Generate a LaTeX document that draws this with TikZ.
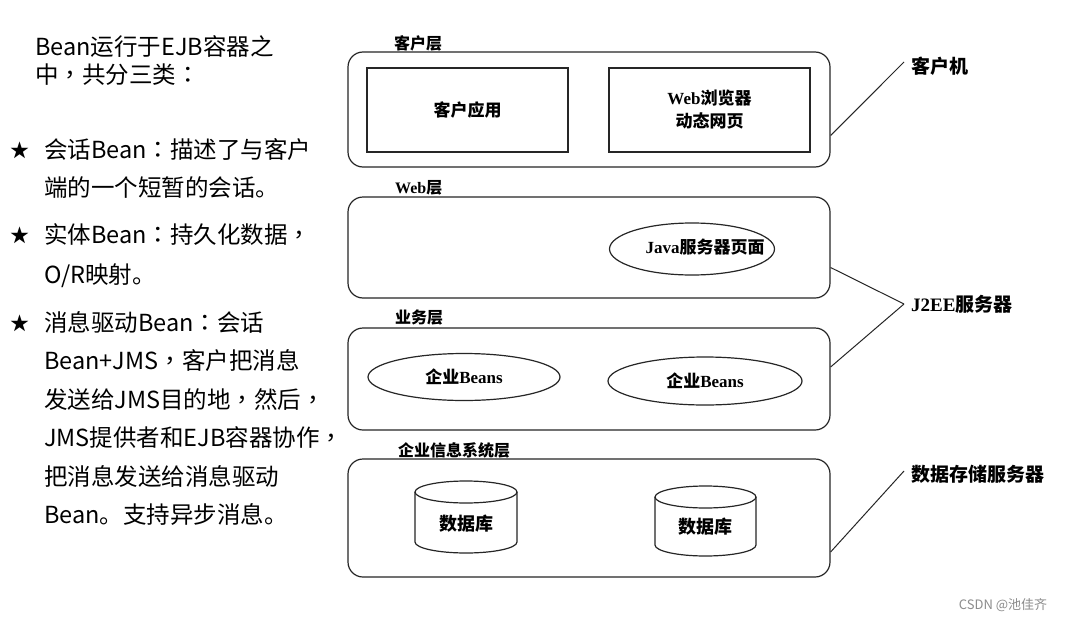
\documentclass[tikz,border=0pt]{standalone}
\usepackage{fontspec}
\setmainfont{Noto Sans CJK SC}
\newfontfamily\cjk{Noto Sans CJK SC}
\newfontfamily\cjktc{Noto Sans CJK TC}
\newfontfamily\lsr{Liberation Serif}
\newcommand\latb[1]{{\lsr\bfseries #1}}
\newcommand\cm{{\cjktc ，}}
\newcommand\cl{{\cjktc ：}}
\usetikzlibrary{calc,shapes.geometric}
\begin{document}
\begin{tikzpicture}[x=1pt,y=-1pt,
  layer/.style={draw=black!85, line width=1.2pt, rounded corners=15pt, minimum width=482pt, inner sep=0pt},
  inbox/.style={draw=black!85, line width=1.2pt, minimum width=201pt, minimum height=84pt, inner sep=0pt,
    font=\cjk\bfseries\fontsize{17}{23}\selectfont, align=center},
  ell/.style={draw=black!85, ellipse, line width=1.2pt, inner sep=0pt},
  dtxt/.style={font=\cjk\bfseries\fontsize{17}{21}\selectfont, inner sep=0pt},
  ltitle/.style={font=\cjk\bfseries\fontsize{16}{20}\selectfont, anchor=west, inner sep=0pt},
  side/.style={font=\cjk\bfseries\fontsize{19}{22}\selectfont, anchor=west, inner sep=0pt},
  conn/.style={line width=1pt, draw=black!85},
  cyl/.style={line width=1.2pt, draw=black!85},
  ltxt/.style={font=\cjk\fontsize{23.5}{28}\selectfont, anchor=base west, inner sep=0pt},
  star/.style={font=\cjk\fontsize{19}{22}\selectfont, anchor=base, inner sep=0pt}]
\fill[white] (0,0) rectangle (1068,621);
\useasboundingbox (0,0) rectangle (1068,621);

% left text
\node[ltxt] (l1) at (35,55) {Bean运行于EJB容器之};
\node[ltxt] (l2) at (35,83) {中\cm 共分三类\cl};
\node[star] (s1) at (20,157) {★};
\node[ltxt] (a1) at (44,158) {会话Bean\cl 描述了与客户};
\node[ltxt] (a2) at (44,196) {端的一个短暂的会话。};
\node[star] (s2) at (20,242) {★};
\node[ltxt] (b1) at (44,243) {实体Bean\cl 持久化数据\cm};
\node[ltxt] (b2) at (44,283) {O/R映射。};
\node[star] (s3) at (20,330) {★};
\node[ltxt] (c1) at (44,331) {消息驱动Bean\cl 会话};
\node[ltxt] (c2) at (44,369) {Bean+JMS\cm 客户把消息};
\node[ltxt] (c3) at (44,408) {发送给JMS目的地\cm 然后\cm};
\node[ltxt] (c4) at (44,446) {JMS提供者和EJB容器协作\cm};
\node[ltxt] (c5) at (44,485) {把消息发送给消息驱动};
\node[ltxt] (c6) at (44,523) {Bean。支持异步消息。};

% layers
\node[layer, minimum height=115pt] (t1) at (589,109.5) {};
\node[layer, minimum height=101pt] (t2) at (589,247.5) {};
\node[layer, minimum height=102pt] (t3) at (589,379) {};
\node[layer, minimum height=118pt] (t4) at (589,518) {};

\node[ltitle] (n1) at (394,43) {客户层};
\node[ltitle] (n2) at (395,188) {\latb{Web}层};
\node[ltitle] (n3) at (395,318) {业务层};
\node[ltitle] (n4) at (398,450) {企业信息系统层};

% client tier
\node[inbox] (app) at (467.5,110) {客户应用};
\node[inbox] (web) at (709.5,110) {\latb{Web}浏览器\\动态网页};

% web tier
\node[ell, minimum width=165pt, minimum height=52pt] (jsp) at (692,249) {};
\node[dtxt] (jspt) at (705,247) {\latb{Java}服务器页面};

% business tier
\node[ell, minimum width=192pt, minimum height=47pt, dtxt] (eb1) at (464,377) {企业\latb{Beans}};
\node[ell, minimum width=194pt, minimum height=48pt, dtxt] (eb2) at (705,381) {企业\latb{Beans}};

% EIS tier: databases
\draw[cyl] (466,492) ellipse[x radius=51, y radius=11];
\draw[cyl] (415,492) -- (415,542) arc[start angle=180, end angle=0, x radius=51, y radius=11] -- (517,492);
\node[dtxt, font=\cjk\bfseries\fontsize{18}{22}\selectfont] (db1) at (466,524) {数据库};
\draw[cyl] (705.5,497) ellipse[x radius=50.5, y radius=11];
\draw[cyl] (655,497) -- (655,545) arc[start angle=180, end angle=0, x radius=50.5, y radius=11] -- (756,497);
\node[dtxt, font=\cjk\bfseries\fontsize{18}{22}\selectfont] (db2) at (705,527) {数据库};

% side labels
\node[side] (khj) at (911,66) {客户机};
\node[side] (j2ee) at (911,304) {\latb{J2EE}服务器};
\node[side] (sjk) at (911,474) {数据存储服务器};

\coordinate (e1) at ($(khj.west)+(-7,-4)$);
\coordinate (e2) at ($(j2ee.west)+(-7,0)$);
\coordinate (e3) at ($(sjk.west)+(-7,-3)$);
\draw[conn] ($(t1.east)+(0,26)$) -- (e1);
\draw[conn] ($(t2.east)+(0,20)$) -- (e2);
\draw[conn] ($(t3.east)+(0,-12)$) -- (e2);
\draw[conn] ($(t4.east)+(0,34)$) -- (e3);

% watermark
\node[font=\cjk\fontsize{13}{15}\selectfont, text=black!45, inner sep=0pt] (wm) at (1003,605) {CSDN @池佳齐};
\end{tikzpicture}
\end{document}
